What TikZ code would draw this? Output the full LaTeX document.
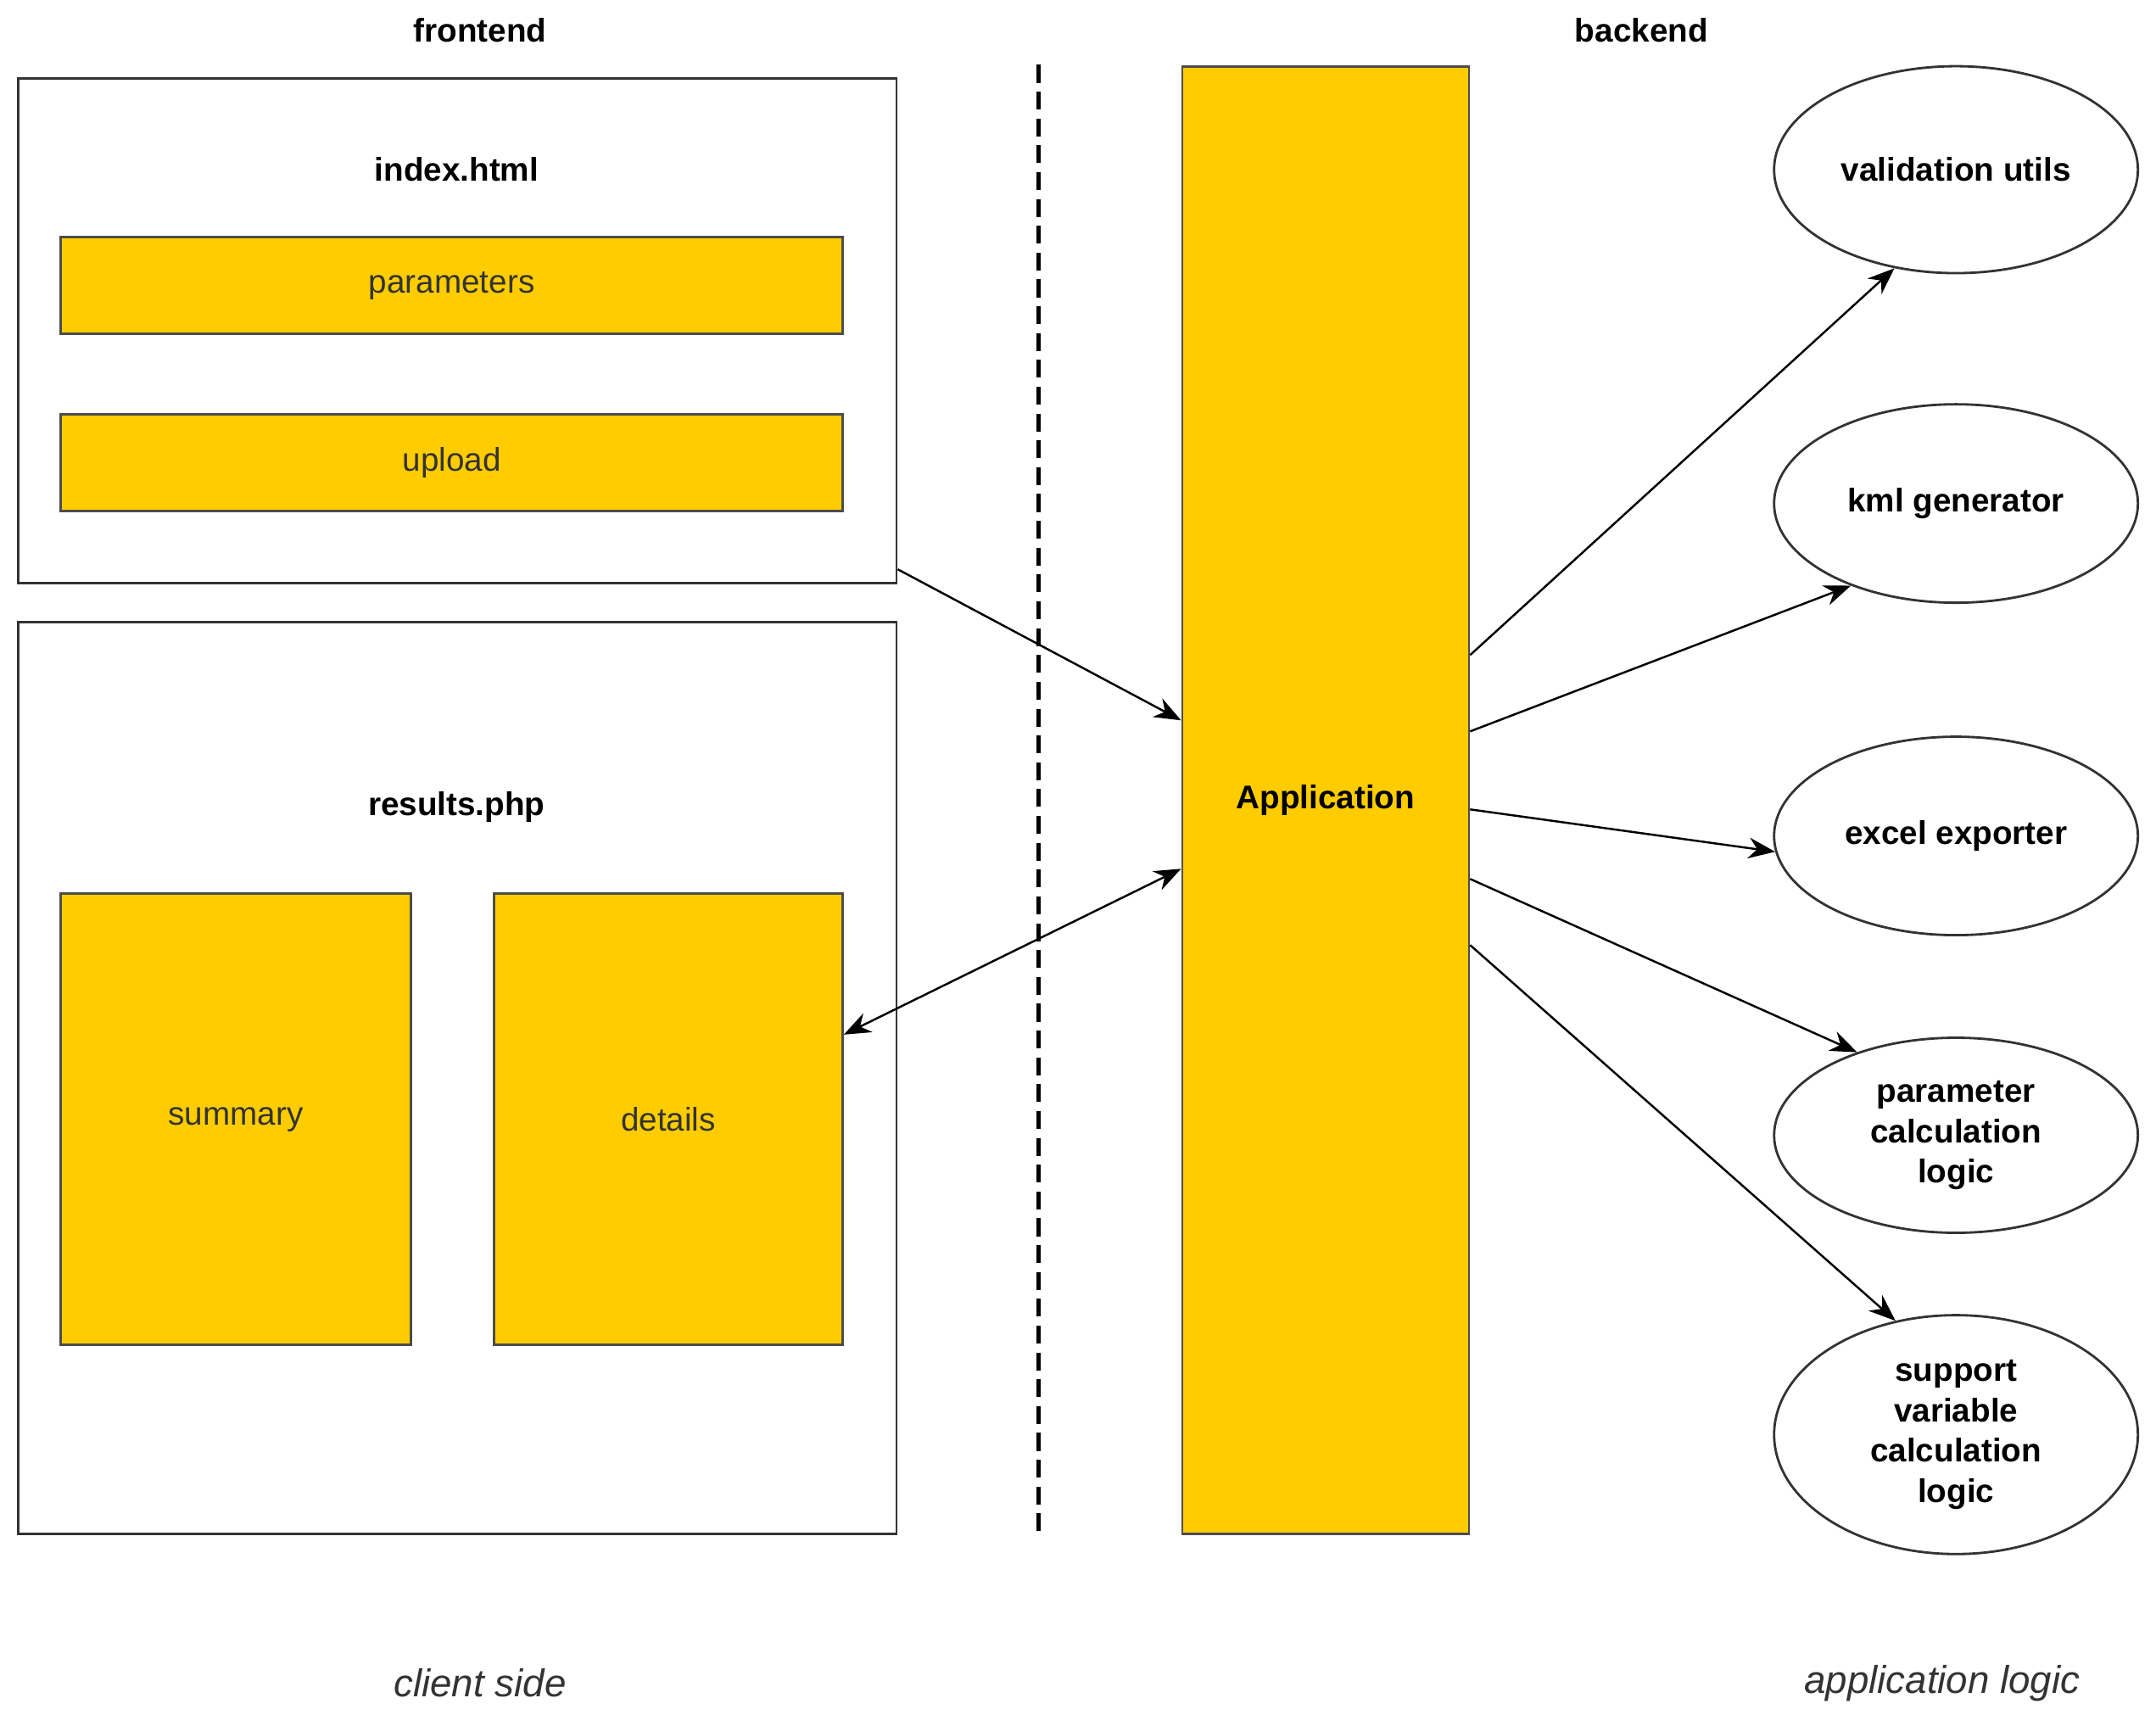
\documentclass[tikz,border=0pt]{standalone}
\usepackage{fontspec}
\setmainfont{Liberation Sans}
\usetikzlibrary{shapes.geometric,arrows.meta}
\definecolor{gold}{HTML}{FFCC00}
\begin{document}
\begin{tikzpicture}[x=0.016264cm,y=-0.016264cm,
  box/.style={draw=black!80,line width=0.8pt,rectangle},
  ybox/.style={draw=black!70,fill=gold,line width=0.8pt,rectangle},
  ell/.style={draw=black!80,line width=0.8pt,ellipse,minimum width=4.29cm,align=center,font=\fontsize{11}{13.5}\selectfont\bfseries},
  lbl/.style={font=\fontsize{11}{13}\selectfont\bfseries},
  ylbl/.style={font=\fontsize{11}{13}\selectfont,text=black!80},
  arr/.style={-{Stealth[length=9pt,width=7pt]},line width=0.7pt}]
\useasboundingbox (0,0) rectangle (1563,1251);
\node[lbl] (fe) at (348,22) {frontend};
\node[lbl] (be) at (1190,22) {backend};
\node[box,minimum width=10.36cm,minimum height=5.95cm] (index) at (331.5,240) {};
\node[lbl] (indexl) at (331,123) {index.html};
\node[ybox,minimum width=9.22cm,minimum height=1.14cm,ylbl] (par) at (327.5,207) {parameters};
\node[ybox,minimum width=9.22cm,minimum height=1.14cm,ylbl] (upl) at (327.5,335.5) {upload};
\node[box,minimum width=10.36cm,minimum height=10.75cm] (res) at (331.5,781.5) {};
\node[lbl] (resl) at (331,585) {results.php};
\node[ybox,minimum width=4.13cm,minimum height=5.32cm,ylbl] (sum) at (171,811.5) {summary};
\node[ybox,minimum width=4.11cm,minimum height=5.32cm,ylbl] (det) at (484.5,811.5) {details};
\coordinate (d1) at (753,47); \coordinate (d2) at (753,1110);
\draw[dashed,line width=1.4pt,dash pattern=on 6pt off 3pt] (d1) -- (d2);
\node[ybox,minimum width=3.38cm,minimum height=17.30cm,lbl] (app) at (961,580) {Application};
\node[ell,minimum height=2.44cm] (val) at (1418,123) {validation utils};
\node[ell,minimum height=2.34cm] (kml) at (1418,365) {kml generator};
\node[ell,minimum height=2.34cm] (exc) at (1418,606) {excel exporter};
\node[ell,minimum height=2.3cm] (pcl) at (1418,823) {parameter\\calculation\\logic};
\node[ell,minimum height=2.36cm] (sup) at (1418,1040) {support\\variable\\calculation\\logic};
\draw[arr] ([yshift=0.18cm]index.south east) -- ([yshift=0.94cm]app.west);
\draw[arr,{Stealth[length=9pt,width=7pt]}-{Stealth[length=9pt,width=7pt]}] ([yshift=1.0cm]det.east) -- ([yshift=-0.81cm]app.west);
\draw[arr] ([yshift=1.71cm]app.east) -- (val.238);
\draw[arr] ([yshift=0.81cm]app.east) -- (kml.218);
\draw[arr] ([yshift=-0.11cm]app.east) -- (exc.185);
\draw[arr] ([yshift=-0.93cm]app.east) -- (pcl.140);
\draw[arr] ([yshift=-1.71cm]app.east) -- (sup.118);
\node[font=\fontsize{13}{15}\selectfont\itshape,text=black!80] (cs) at (348,1220) {client side};
\node[font=\fontsize{13}{15}\selectfont\itshape,text=black!80] (al) at (1408,1220) {application logic};
\end{tikzpicture}
\end{document}
